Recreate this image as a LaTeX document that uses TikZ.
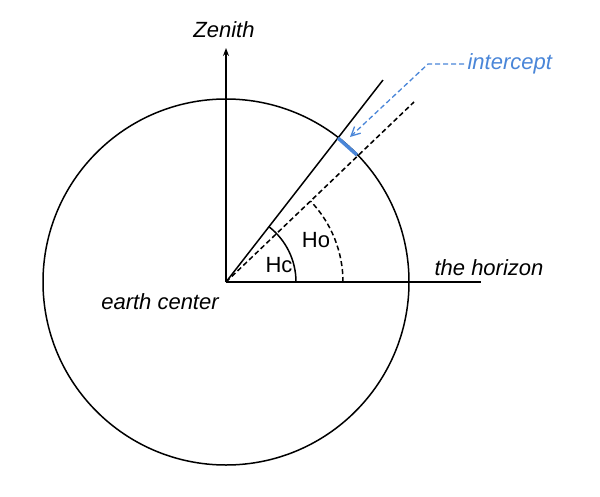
\documentclass[tikz,border=0pt]{standalone}
\usepackage{fontspec}
\setmainfont{Liberation Sans}
\usetikzlibrary{arrows.meta}
\definecolor{blu}{HTML}{4A86D8}
\begin{document}
\begin{tikzpicture}[x=1pt,y=-1pt,
  lbl/.style={font=\fontsize{22}{24}\selectfont\itshape},
  ang/.style={font=\fontsize{22}{24}\selectfont},
  thin/.style={line width=1.5pt},
  dsh/.style={dash pattern=on 5pt off 3pt}]
\useasboundingbox (0,0) rectangle (600,496);
\coordinate (O) at (226,282);
\draw[thin] (O) circle (183);
\coordinate (Zt) at (226,48);
\draw[thin,-{Stealth[length=8pt]}] (O) -- (Zt);
\node[lbl] (zen) at (224,30) {Zenith};
\coordinate (A) at (383,80);
\coordinate (B) at (414,102);
\coordinate (H) at (481,282);
\draw[thin] (O) -- (A);
\draw[thin,dsh] (O) -- (B);
\draw[thin] (O) -- (H);
\draw[thin] (296,282) arc[start angle=0,end angle=-52.1,radius=70];
\draw[thin,dsh] (343,282) arc[start angle=0,end angle=-43.8,radius=117];
\node[ang] (hc) at (279,265) {Hc};
\node[ang] (ho) at (316,240) {Ho};
\node[lbl] (hor) at (489,268) {the horizon};
\node[lbl] (ec) at (160,302) {earth center};
\draw[blu,line width=3.5pt] (338,138) -- (357,155);
\node[lbl,text=blu,anchor=west] (int) at (464,64) {intercept};
\coordinate (k) at (428,64);
\coordinate (tip) at (350,137);
\draw[blu,line width=1.3pt,dsh,-{Straight Barb[length=9pt,width=9pt]}] (int.west) -- (k) -- (tip);
\end{tikzpicture}
\end{document}
